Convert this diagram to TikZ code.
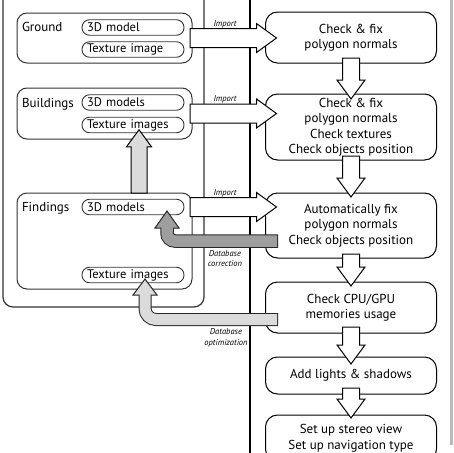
\documentclass[tikz,border=0pt]{standalone}
\usepackage{fontspec}
\setmainfont{PT Sans}
\usetikzlibrary{calc}
\definecolor{bandmid}{gray}{0.62}
\definecolor{bandlight}{gray}{0.86}
\definecolor{edgegray}{gray}{0.73}
\newcommand\blockdown[2]{%
  \draw[hollow] let \p1=(#1), \p2=(#2) in
  (\x1-8.5pt,\y1) -- (\x1-8.5pt,\y2+19pt) -- (\x1-14pt,\y2+19pt) -- (\x1,\y2)
  -- (\x1+14pt,\y2+19pt) -- (\x1+8.5pt,\y2+19pt) -- (\x1+8.5pt,\y1) -- cycle;}
\newcommand\blockright[2]{%
  \draw[hollow] let \p1=(#1), \p2=(#2) in
  (\x1,\y2+9.5pt) -- (\x2-20pt,\y2+9.5pt) -- (\x2-20pt,\y2+14.5pt) -- (\x2,\y2)
  -- (\x2-20pt,\y2-14.5pt) -- (\x2-20pt,\y2-9.5pt) -- (\x1,\y2-9.5pt) -- cycle;}
\newcommand\blockup[2]{%
  \draw[hollow, fill=bandlight] let \p1=(#1), \p2=(#2) in
  (\x2-8pt,\y1) -- (\x2-8pt,\y2-17pt) -- (\x2-12.5pt,\y2-17pt) -- (\x2,\y2)
  -- (\x2+12.5pt,\y2-17pt) -- (\x2+8pt,\y2-17pt) -- (\x2+8pt,\y1) -- cycle;}
\begin{document}
\begin{tikzpicture}[x=1pt,y=-1pt,
  every node/.style={inner sep=0pt, outer sep=0pt},
  stepbox/.style={draw=black, line width=1pt, rounded corners=12pt, fill=white,
    minimum width=171pt, align=center, font=\fontsize{13}{15.5}\selectfont},
  groupbox/.style={draw=black!80, line width=1pt, rounded corners=10pt, minimum width=175pt},
  capsule/.style={draw=black!80, line width=0.9pt, rounded corners=7.5pt, minimum width=102pt,
    minimum height=15.5pt, text width=92pt, align=left, font=\fontsize{12.5}{14}\selectfont},
  grouplabel/.style={font=\fontsize{13}{14}\selectfont, anchor=base west},
  smalllabel/.style={font=\fontsize{8.5}{10.5}\selectfont\itshape, align=center},
  hollow/.style={draw=black, line width=1pt, fill=white, line join=miter},
  bandedge/.style={black!85, line width=13.5pt},
]
\useasboundingbox (0,0) rectangle (453,453);
\fill[edgegray] (450,0) rectangle (453,445);
% outer left frame and main divider
\draw[black!80, line width=1.2pt, rounded corners=10pt] (3,-15) -- (3,307) -- (204,307) -- (204,-15);
\draw[black, line width=1.6pt] (250,0) -- (250,453);
% left groups
\node[groupbox, minimum height=50pt] (ground) at (104.5,38) {};
\node[groupbox, minimum height=51pt] (buildings) at (104.5,113.5) {};
\node[groupbox, minimum height=96pt] (findings) at (104.5,241) {};
\node[grouplabel] (groundlbl) at (22,31.5) {Ground};
\node[grouplabel] (buildlbl) at (22,107.5) {Buildings};
\node[grouplabel] (findlbl) at (22,211.5) {Findings};
\node[capsule] (ground3d) at (133,27.5) {3D model};
\node[capsule] (groundtex) at (133,49.5) {Texture image};
\node[capsule] (build3d) at (133,102.5) {3D models};
\node[capsule] (buildtex) at (133,125) {Texture images};
\node[capsule] (find3d) at (133,207) {3D models};
\node[capsule] (findtex) at (133,275) {Texture images};
% right steps
\node[stepbox, minimum height=51pt] (b1) at (351,37.5) {Check \& fix\\polygon normals};
\node[stepbox, minimum height=66pt] (b2) at (351,127) {Check \& fix\\polygon normals\\Check textures\\Check objects position};
\node[stepbox, minimum height=65pt] (b3) at (351,225.5) {Automatically fix\\polygon normals\\Check objects position};
\node[stepbox, minimum height=51pt] (b4) at (351,307.5) {Check CPU/GPU\\memories usage};
\node[stepbox, minimum height=37pt] (b5) at (351,375.5) {Add lights \& shadows};
\node[stepbox, minimum height=46pt] (b6) at (351,438) {Set up stereo view\\Set up navigation type};
% down arrows
\blockdown{$(b1.south)+(0,-5)$}{$(b2.north)+(0,5)$}
\blockdown{$(b2.south)+(0,-4)$}{$(b3.north)+(0,4)$}
\blockdown{$(b3.south)+(0,-4)$}{$(b4.north)+(0,4)$}
\blockdown{$(b4.south)+(0,-6)$}{$(b5.north)+(0,7)$}
\blockdown{$(b5.south)+(0,-6)$}{$(b6.north)+(0,3)$}
% import arrows
\blockright{$(ground.east)+(-2,0)$}{$(b1.west |- ground.center)+(11,0)$}
\blockright{$(buildings.east)+(-2,0)$}{$(b2.west |- buildings.center)+(11,0)$}
\blockright{$(find3d.east)+(6,0)$}{$(b3.west |- find3d.center)+(11,0)$}
\node[smalllabel] (imp1) at (225,24) {Import};
\node[smalllabel] (imp2) at (225,99) {Import};
\node[smalllabel] (imp3) at (225,193) {Import};
% findings -> buildings texture
\coordinate (upTip) at ($(buildtex.south)+(6,-3)$);
\blockup{findings.north}{upTip}
% database correction
\coordinate (corrStart) at (277,241);
\coordinate (corrTip) at (167,211);
\draw[bandedge, rounded corners=8pt] ($(corrStart)+(1,0)$) -- (corrTip |- corrStart) -- ($(corrTip)+(0,17)$);
\draw[fill=bandmid, draw=black!85, line width=1pt] ($(corrTip)+(-12,17)$) -- (corrTip) -- ($(corrTip)+(12,17)$) -- cycle;
\draw[bandmid, line width=11.5pt, rounded corners=8pt] (corrStart) -- (corrTip |- corrStart) -- ($(corrTip)+(0,15.5)$);
\node[smalllabel] (corrlbl) at (225,258.5) {Database\\correction};
% database optimization
\coordinate (optStart) at (277,319.5);
\coordinate (optTip) at (145,279);
\draw[bandedge, line width=13pt, rounded corners=11pt] ($(optStart)+(1,0)$) -- (optTip |- optStart) -- ($(optTip)+(0,16)$);
\draw[fill=bandlight, draw=black!85, line width=1pt] ($(optTip)+(-12,16)$) -- (optTip) -- ($(optTip)+(12,16)$) -- cycle;
\draw[bandlight, line width=11pt, rounded corners=11pt] (optStart) -- (optTip |- optStart) -- ($(optTip)+(0,14.5)$);
\node[smalllabel] (optlbl) at (226,338) {Database\\optimization};
\end{tikzpicture}
\end{document}
